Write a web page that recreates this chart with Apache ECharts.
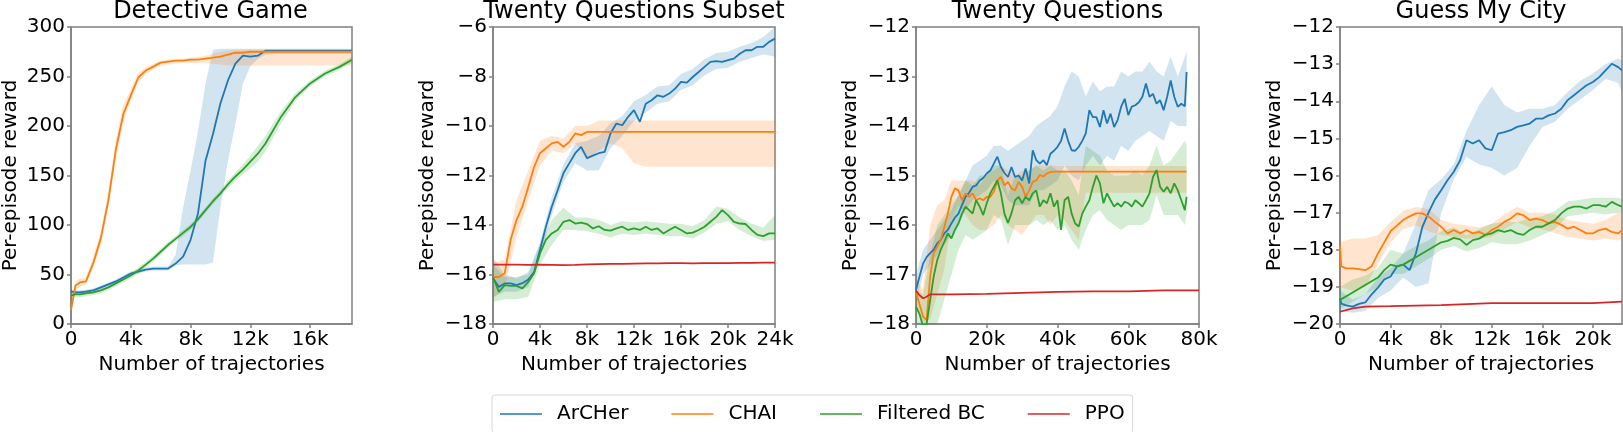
<!DOCTYPE html>
<html>
<head>
<meta charset="utf-8">
<script src="https://cdn.jsdelivr.net/npm/echarts@6/dist/echarts.min.js"></script>
<style>
  html, body { margin: 0; padding: 0; background: #fff; }
  #chart { width: 1623px; height: 432px; }
</style>
</head>
<body>
<div id="chart"></div>
<script>
// x values are in thousands of trajectories
// ---- Detective Game ----
const dgX = [0,0.3,0.6,1,1.5,2,2.5,3,3.5,4,4.5,5,5.5,6,6.5,7,7.5,8,8.5,9,9.5,10,10.5,11,11.5,12,12.5,13,14,15,16,17,18,18.8]
const dgArCHer = [33,32,32,32.6,34,37,40,43,47,51,53,55,56,56,56,61,68,85,112,165,192,223,246,263,271,270,271,276,276,276,276,276,276,276]
const dgArCHerLo = [30,30,30,30.5,32,35,38,41,45,49,51,53,54,54,54,59,60,60,60,60,62,118,165,202,243,260,268,272,273,273,273,273,273,273]
const dgArCHerHi = [35,34,34,34.6,36,39,42,45,49,53,55,57,58,58,58,70,118,155,195,243,277,278,278,278,278,278,278,278,278,278,278,278,278,278]
const dgCHAI = [14,39,42,43,62,87,125,176,212,231,249,256,260,264,265,266,266,267,267,268,269,270,272,274,274,275,275,275,275,275,275,275,275,275]
const dgCHAILo = [10,34,38,40,57,80,118,166,204,226,244,252,257,261,262,263,264,264,264,264,263,262,261,261,261,261,261,261,261,261,261,261,261,261]
const dgCHAIHi = [20,43,46,47,68,94,133,186,221,237,254,259,263,266,267,268,268,269,270,271,273,275,276,277,277,277,277,277,277,277,277,277,277,277]
const dgBC = [29,30,30,31,32,34,37,41,45,49,54,60,66,73,80,86,92,98,106,115,124,132,141,149,156,164,172,182,208,229,243,253,260,267]
const dgBCLo = [26,27,27,28,29,31,34,38,42,46,51,57,63,70,77,83,89,95,103,112,121,129,137,145,151,157,164,174,201,225,240,250,257,264]
const dgBCHi = [32,33,33,34,35,37,40,44,48,52,57,63,69,76,83,89,95,101,109,118,127,135,145,153,161,170,180,190,214,233,246,256,263,270]

// ---- Twenty Questions Subset ----
const tqsX = [0,0.5,1,1.5,2,2.5,3,3.5,4,4.5,5,5.5,6,6.5,7,7.5,8,8.5,9,9.5,10,10.5,11,11.5,12,12.5,13,13.5,14,14.5,15,15.5,16,16.5,17,17.5,18,18.5,19,19.5,20,20.5,21,21.5,22,22.5,23,23.5,24]
const tqsBX = [0,1,2,3,4,5,6,7,8,9,10,11,12,13,14,15,16,17,18,19,20,21,22,23,24]
const tqsArCHer = [-16.16,-16.5,-16.36,-16.36,-16.43,-16.35,-16.2,-15.9,-15.0,-14.07,-13.26,-12.6,-11.9,-11.5,-11.1,-10.84,-11.3,-11.2,-11.1,-11.05,-10.3,-9.9,-9.97,-9.63,-9.36,-9.83,-9.1,-8.96,-8.76,-8.82,-8.69,-8.49,-8.22,-8.25,-8.02,-7.82,-7.61,-7.41,-7.38,-7.41,-7.34,-7.28,-7.08,-6.94,-6.94,-6.8,-6.8,-6.6,-6.47]
const tqsArCHerLo = [-16.9,-16.7,-16.7,-16.5,-15.3,-13.6,-12.25,-11.5,-11.8,-11.8,-10.9,-10.4,-9.8,-9.45,-9.1,-9.0,-8.55,-8.35,-7.95,-7.7,-7.65,-7.4,-7.25,-7.1,-7.2]
const tqsArCHerHi = [-15.3,-16.0,-16.15,-15.9,-14.7,-12.9,-11.55,-10.7,-10.6,-10.4,-9.9,-9.6,-9.0,-8.75,-8.4,-8.35,-7.9,-7.7,-7.3,-7.05,-7.0,-6.8,-6.65,-6.4,-6.0]
const tqsCHAI = [-16.1,-16.1,-15.95,-14.6,-13.8,-13.26,-12.46,-11.65,-11.1,-10.9,-10.7,-10.64,-10.84,-10.64,-10.3,-10.37,-10.24,-10.24,-10.24,-10.24,-10.24,-10.24,-10.24,-10.24,-10.24,-10.24,-10.24,-10.24,-10.24,-10.24,-10.24,-10.24,-10.24,-10.24,-10.24,-10.24,-10.24,-10.24,-10.24,-10.24,-10.24,-10.24,-10.24,-10.24,-10.24,-10.24,-10.24,-10.24,-10.24]
const tqsCHAILo = [-17.0,-16.5,-14.5,-13.0,-11.6,-11.0,-11.1,-10.7,-11.38,-11.0,-10.7,-10.9,-11.5,-11.65,-11.65,-11.65,-11.65,-11.65,-11.65,-11.65,-11.65,-11.65,-11.65,-11.65,-11.65]
const tqsCHAIHi = [-15.5,-15.4,-13.0,-11.8,-10.6,-10.4,-10.5,-10.0,-10.0,-9.78,-9.78,-9.78,-9.78,-9.78,-9.78,-9.78,-9.78,-9.78,-9.78,-9.78,-9.78,-9.78,-9.78,-9.78,-9.78]
const tqsBC = [-16.1,-16.7,-16.43,-16.46,-16.46,-16.56,-16.3,-15.95,-15.15,-14.6,-14.34,-14.2,-13.87,-13.8,-13.94,-13.9,-13.96,-14.14,-14.05,-14.2,-14.23,-14.14,-14.07,-14.2,-14.14,-14.2,-14.07,-14.2,-14.14,-14.34,-14.2,-14.07,-14.2,-14.34,-14.31,-14.2,-14.07,-13.87,-13.67,-13.4,-13.6,-13.87,-13.94,-13.96,-14.2,-14.4,-14.45,-14.34,-14.34]
const tqsBCLo = [-17.1,-17.0,-17.0,-16.9,-15.6,-14.8,-14.2,-14.2,-14.25,-14.35,-14.5,-14.35,-14.4,-14.35,-14.4,-14.45,-14.45,-14.55,-14.3,-13.95,-13.85,-14.2,-14.45,-14.65,-14.6]
const tqsBCHi = [-15.6,-16.1,-16.1,-16.0,-14.8,-13.8,-13.3,-13.7,-13.7,-13.8,-14.0,-13.85,-13.9,-13.85,-13.9,-13.95,-13.95,-14.05,-13.8,-13.25,-13.35,-13.7,-13.95,-14.1,-13.6]
const tqsPPO = [-15.6,-15.6,-15.6,-15.61,-15.6,-15.61,-15.62,-15.61,-15.59,-15.58,-15.57,-15.57,-15.56,-15.55,-15.55,-15.54,-15.54,-15.55,-15.54,-15.54,-15.54,-15.53,-15.53,-15.52,-15.52]

// ---- Twenty Questions ----
const tqX = [0,1,2,3,4,5,6,7,8,9,10,11,12,13,14,15,16,17,18,19,20,21,22,23,24,25,26,27,28,29,30,31,32,33,34,35,36,37,38,39,40,41,42,43,44,45,46,47,48,49,50,51,52,53,54,55,56,57,58,59,60,61,62,63,64,65,66,67,68,69,70,71,72,73,74,75,76,76.5]
const tqBX = [0,2,4,6,8,10,12,14,16,18,20,22,24,26,28,30,32,34,36,38,40,42,44,46,48,50,52,54,56,58,60,62,64,66,68,70,72,74,76,76.5]
const tqArCHer = [-17.31,-17.04,-16.78,-16.65,-16.57,-16.5,-16.37,-16.3,-16.17,-16.1,-15.97,-15.85,-15.77,-15.6,-15.43,-15.35,-15.23,-15.2,-15.1,-15.05,-14.96,-14.9,-14.76,-14.62,-14.83,-14.95,-15.03,-14.83,-15.03,-15.0,-15.1,-14.86,-15.16,-14.49,-14.69,-14.76,-14.69,-14.79,-14.56,-14.5,-14.42,-14.3,-14.05,-14.3,-14.49,-14.5,-14.42,-14.3,-14.15,-13.68,-13.82,-13.82,-14.02,-13.68,-13.95,-13.75,-14.02,-13.88,-13.61,-13.45,-13.78,-13.61,-13.58,-13.52,-13.41,-13.14,-13.41,-13.35,-13.55,-13.48,-13.68,-13.41,-13.08,-13.41,-13.61,-13.55,-13.6,-12.91]
const tqArCHerLo = [-17.6,-17.0,-16.8,-16.6,-16.4,-16.2,-16.0,-15.7,-15.5,-15.4,-15.3,-15.1,-15.2,-15.5,-15.6,-15.6,-15.6,-15.3,-15.3,-15.2,-15.1,-14.8,-15.0,-15.1,-14.8,-14.6,-14.8,-14.6,-14.7,-14.4,-14.5,-14.3,-14.2,-14.1,-14.2,-14.3,-13.9,-14.0,-14.0,-14.0]
const tqArCHerHi = [-17.0,-16.5,-16.3,-16.1,-15.9,-15.7,-15.4,-15.1,-14.8,-14.7,-14.6,-14.4,-14.4,-14.5,-14.4,-14.3,-14.2,-14.0,-13.9,-13.8,-13.6,-13.2,-12.9,-13.0,-13.4,-13.1,-13.3,-13.2,-13.2,-12.9,-13.0,-12.9,-12.9,-12.7,-12.9,-13.0,-12.6,-13.0,-12.6,-12.5]
const tqCHAI = [-17.35,-17.6,-17.85,-17.92,-17.04,-16.57,-16.44,-16.3,-16.04,-15.77,-15.43,-15.26,-15.3,-15.5,-15.36,-15.43,-15.36,-15.5,-15.46,-15.5,-15.43,-15.43,-15.33,-15.1,-15.03,-15.2,-15.13,-15.26,-15.3,-15.13,-15.23,-15.43,-15.3,-15.13,-15.1,-14.99,-15.02,-14.96,-14.93,-14.92,-14.92,-14.92,-14.92,-14.92,-14.92,-14.92,-14.92,-14.92,-14.92,-14.92,-14.92,-14.92,-14.92,-14.92,-14.92,-14.92,-14.92,-14.92,-14.92,-14.92,-14.92,-14.92,-14.92,-14.92,-14.92,-14.92,-14.92,-14.92,-14.92,-14.92,-14.92,-14.92,-14.92,-14.92,-14.92,-14.92,-14.92,-14.92]
const tqCHAILo = [-17.6,-18.0,-17.9,-17.4,-16.9,-15.9,-15.6,-15.8,-16.0,-16.1,-16.1,-16.0,-15.8,-16.0,-16.1,-16.2,-16.0,-15.8,-15.8,-16.0,-15.8,-15.9,-16.1,-16.3,-15.35,-15.35,-15.35,-15.35,-15.35,-15.35,-15.35,-15.35,-15.35,-15.35,-15.35,-15.35,-15.35,-15.35,-15.35,-15.35]
const tqCHAIHi = [-17.1,-17.3,-16.0,-15.6,-15.5,-15.1,-15.1,-15.1,-15.1,-15.2,-15.0,-14.9,-14.8,-14.9,-15.0,-14.9,-14.9,-14.8,-14.8,-14.8,-14.81,-14.81,-14.81,-14.81,-14.81,-14.81,-14.81,-14.81,-14.81,-14.81,-14.81,-14.81,-14.81,-14.81,-14.81,-14.81,-14.81,-14.81,-14.81,-14.81]
const tqBC = [-17.65,-17.8,-18.05,-18.0,-17.52,-17.04,-16.71,-16.5,-16.34,-16.17,-16.27,-16.1,-15.97,-15.77,-15.63,-15.7,-15.77,-15.5,-15.63,-15.8,-15.56,-15.36,-15.23,-15.1,-15.36,-15.77,-15.96,-15.76,-15.5,-15.43,-15.56,-15.43,-15.5,-15.36,-15.3,-15.63,-15.5,-15.56,-15.36,-15.63,-15.5,-16.1,-15.5,-15.43,-15.77,-15.97,-16.03,-15.77,-15.63,-15.5,-15.23,-15.0,-15.16,-15.56,-15.36,-15.5,-15.63,-15.56,-15.63,-15.53,-15.56,-15.63,-15.5,-15.56,-15.63,-15.5,-15.36,-15.03,-14.89,-15.23,-15.33,-15.23,-15.36,-15.16,-15.3,-15.5,-15.7,-15.43]
const tqBCLo = [-18.0,-18.3,-18.2,-18.0,-17.5,-17.0,-16.5,-16.2,-16.3,-16.2,-16.1,-15.8,-15.9,-16.4,-16.0,-16.0,-16.0,-15.9,-16.0,-15.9,-16.1,-16.0,-16.3,-16.5,-16.1,-15.8,-15.7,-15.9,-16.0,-16.1,-16.0,-16.0,-16.0,-15.9,-15.4,-15.8,-15.8,-15.8,-16.0,-15.8]
const tqBCHi = [-17.3,-17.4,-16.6,-16.0,-15.8,-15.6,-15.4,-15.1,-15.2,-15.0,-15.0,-14.8,-14.8,-15.4,-15.0,-15.0,-14.9,-14.8,-14.9,-14.8,-14.9,-14.9,-15.1,-15.4,-14.4,-14.5,-14.6,-14.9,-15.0,-15.0,-15.0,-14.9,-15.0,-14.8,-14.4,-14.8,-14.7,-14.5,-14.3,-14.4]
const tqPPOX = [0,1,2,3,4,6,10,20,30,40,50,60,70,80]
const tqPPO = [-17.33,-17.42,-17.48,-17.45,-17.4,-17.4,-17.4,-17.39,-17.37,-17.35,-17.34,-17.34,-17.32,-17.32]

// ---- Guess My City ----
const gmX = [0,0.1,0.5,1,1.5,2,2.5,3,3.5,4,4.5,5,5.5,6,6.5,7,7.5,8,8.5,9,9.5,10,10.5,11,11.5,12,12.5,13,13.5,14,14.5,15,15.5,16,16.5,17,17.5,18,18.5,19,19.5,20,20.5,21,21.5,22,22.3]
const gmBX = [0,1,2,3,4,5,6,7,8,9,10,11,12,13,14,15,16,17,18,19,20,21,22,22.3]
const gmArCHer = [-19.31,-19.45,-19.5,-19.53,-19.46,-19.42,-19.2,-19.02,-18.8,-18.72,-18.45,-18.4,-18.55,-18.1,-17.4,-17.0,-16.65,-16.4,-16.13,-15.9,-15.59,-15.05,-15.14,-15.05,-15.27,-15.32,-14.87,-14.83,-14.78,-14.69,-14.65,-14.6,-14.47,-14.47,-14.38,-14.33,-14.2,-13.97,-13.84,-13.7,-13.57,-13.48,-13.35,-13.17,-12.99,-13.08,-13.17]
const gmArCHerLo = [-19.65,-19.7,-19.65,-19.3,-19.1,-18.75,-19.0,-18.9,-17.0,-16.1,-15.5,-15.7,-15.8,-16.0,-15.8,-15.2,-14.7,-14.55,-14.2,-13.95,-13.7,-13.4,-13.5,-13.75]
const gmArCHerHi = [-19.1,-19.35,-19.2,-18.75,-18.5,-18.1,-17.3,-16.4,-16.1,-15.7,-14.8,-14.1,-13.6,-14.1,-14.3,-14.2,-14.2,-14.1,-13.75,-13.45,-13.25,-13.0,-12.85,-12.9]
const gmCHAI = [-17.9,-18.45,-18.5,-18.5,-18.52,-18.55,-18.45,-18.1,-17.8,-17.5,-17.35,-17.2,-17.1,-17.02,-17.02,-17.1,-17.25,-17.38,-17.56,-17.47,-17.56,-17.47,-17.56,-17.52,-17.6,-17.47,-17.38,-17.25,-17.16,-17.02,-17.07,-17.2,-17.16,-17.2,-17.29,-17.25,-17.33,-17.43,-17.38,-17.47,-17.56,-17.56,-17.47,-17.43,-17.52,-17.56,-17.47]
const gmCHAILo = [-19.0,-19.1,-19.0,-18.4,-17.8,-17.45,-17.35,-17.5,-17.6,-17.65,-17.7,-17.7,-17.65,-17.45,-17.25,-17.4,-17.45,-17.55,-17.65,-17.7,-17.75,-17.7,-17.75,-17.7]
const gmCHAIHi = [-17.8,-17.7,-17.7,-17.6,-17.25,-16.95,-16.85,-16.9,-17.2,-17.3,-17.35,-17.4,-17.3,-17.05,-16.85,-17.0,-17.0,-17.05,-17.2,-17.25,-17.3,-17.2,-17.0,-17.0]
const gmBC = [-19.35,-19.3,-19.25,-19.15,-19.05,-18.95,-18.85,-18.75,-18.55,-18.4,-18.45,-18.4,-18.3,-18.2,-18.1,-18.0,-17.9,-17.8,-17.76,-17.68,-17.72,-17.87,-17.74,-17.7,-17.6,-17.56,-17.47,-17.52,-17.47,-17.56,-17.6,-17.47,-17.38,-17.38,-17.29,-17.2,-17.02,-16.89,-16.84,-16.84,-16.89,-16.8,-16.8,-16.84,-16.71,-16.8,-16.84]
const gmBCLo = [-19.6,-19.4,-19.2,-19.0,-18.65,-18.65,-18.45,-18.25,-18.0,-17.9,-18.05,-17.95,-17.8,-17.85,-17.85,-17.75,-17.6,-17.45,-17.1,-17.05,-17.0,-17.05,-17.0,-17.0]
const gmBCHi = [-19.0,-18.8,-18.7,-18.5,-18.0,-18.1,-17.9,-17.75,-17.5,-17.4,-17.6,-17.45,-17.3,-17.25,-17.25,-17.15,-17.1,-16.95,-16.7,-16.65,-16.6,-16.6,-16.6,-16.65]
const gmPPOX = [0,0.1,1,2,4,8,12,16,20,22.3]
const gmPPO = [-19.67,-19.66,-19.58,-19.53,-19.52,-19.49,-19.44,-19.44,-19.44,-19.4]

const titles = ['Detective Game', 'Twenty Questions Subset', 'Twenty Questions', 'Guess My City']
const methods = ['ArCHer', 'CHAI', 'Filtered BC', 'PPO']
const colors = ['#1f77b4', '#ff7f0e', '#2ca02c', '#d62728']
const fills = ['rgba(31,119,180,0.2)', 'rgba(255,127,14,0.2)', 'rgba(44,160,44,0.2)', 'rgba(214,39,40,0.2)']

const FONT = 'DejaVu Sans'
const AXIS_GRAY = '#808080'

// plot boxes in px: left, width
const boxes = [[69, 283], [493, 282], [916, 283], [1340, 282]]
const TOP = 27, BOTTOM = 108

const panels = [
  { xMax: 18.8, xTicks: [0, 4, 8, 12, 16], yMin: 0, yMax: 300, yStep: 50, nameGap: 50,
    runs: [
      { k: 0, x: dgX, y: dgArCHer, bx: dgX, lo: dgArCHerLo, hi: dgArCHerHi },
      { k: 1, x: dgX, y: dgCHAI, bx: dgX, lo: dgCHAILo, hi: dgCHAIHi },
      { k: 2, x: dgX, y: dgBC, bx: dgX, lo: dgBCLo, hi: dgBCHi }
    ] },
  { xMax: 24, xTicks: [0, 4, 8, 12, 16, 20, 24], yMin: -18, yMax: -6, yStep: 2, nameGap: 55,
    runs: [
      { k: 0, x: tqsX, y: tqsArCHer, bx: tqsBX, lo: tqsArCHerLo, hi: tqsArCHerHi },
      { k: 1, x: tqsX, y: tqsCHAI, bx: tqsBX, lo: tqsCHAILo, hi: tqsCHAIHi },
      { k: 2, x: tqsX, y: tqsBC, bx: tqsBX, lo: tqsBCLo, hi: tqsBCHi },
      { k: 3, x: tqsBX, y: tqsPPO }
    ] },
  { xMax: 80, xTicks: [0, 20, 40, 60, 80], yMin: -18, yMax: -12, yStep: 1, nameGap: 55,
    runs: [
      { k: 0, x: tqX, y: tqArCHer, bx: tqBX, lo: tqArCHerLo, hi: tqArCHerHi },
      { k: 1, x: tqX, y: tqCHAI, bx: tqBX, lo: tqCHAILo, hi: tqCHAIHi },
      { k: 2, x: tqX, y: tqBC, bx: tqBX, lo: tqBCLo, hi: tqBCHi },
      { k: 3, x: tqPPOX, y: tqPPO }
    ] },
  { xMax: 22.3, xTicks: [0, 4, 8, 12, 16, 20], yMin: -20, yMax: -12, yStep: 1, nameGap: 55,
    runs: [
      { k: 0, x: gmX, y: gmArCHer, bx: gmBX, lo: gmArCHerLo, hi: gmArCHerHi },
      { k: 1, x: gmX, y: gmCHAI, bx: gmBX, lo: gmCHAILo, hi: gmCHAIHi },
      { k: 2, x: gmX, y: gmBC, bx: gmBX, lo: gmBCLo, hi: gmBCHi },
      { k: 3, x: gmPPOX, y: gmPPO }
    ] }
]

// shaded band drawn as one polygon through the axes' coord mapping
function bandSeries(i, k, xs, lo, hi) {
  const pts = xs.map((x, j) => [x, lo[j], hi[j]])
  return {
    type: 'custom',
    name: methods[k] + ' band',
    xAxisIndex: i,
    yAxisIndex: i,
    silent: true,
    clip: true,
    data: pts,
    encode: { x: 0, y: [1, 2] },
    renderItem: function (params, api) {
      if (params.dataIndex !== 0) return null
      const up = pts.map(p => api.coord([p[0], p[2]]))
      const dn = pts.map(p => api.coord([p[0], p[1]])).reverse()
      return {
        type: 'polygon',
        shape: { points: up.concat(dn) },
        style: { fill: fills[k], stroke: null }
      }
    }
  }
}

const series = []
panels.forEach((p, i) => {
  p.runs.forEach(r => {
    if (r.lo) series.push(bandSeries(i, r.k, r.bx, r.lo, r.hi))
    series.push({
      type: 'line',
      name: methods[r.k],
      xAxisIndex: i,
      yAxisIndex: i,
      data: r.x.map((v, j) => [v, r.y[j]]),
      showSymbol: false,
      symbol: 'none',
      clip: true,
      lineStyle: { width: 1.8, color: colors[r.k] },
      itemStyle: { color: colors[r.k] }
    })
  })
})

const fmtY = v => (v < 0 ? '\u2212' + (-v) : String(v))

const option = {
  animation: false,
  backgroundColor: '#fff',
  textStyle: { fontFamily: FONT },
  title: titles.map((t, i) => ({
    text: t,
    left: boxes[i][0] + boxes[i][1] / 2,
    top: 0,
    padding: 0,
    textAlign: 'center',
    textStyle: { fontSize: 24, fontWeight: 'normal', color: '#000', fontFamily: FONT }
  })),
  grid: boxes.map(b => ({
    left: b[0], width: b[1], top: TOP, bottom: BOTTOM,
    show: true, borderColor: AXIS_GRAY, borderWidth: 1.5, containLabel: false
  })),
  xAxis: panels.map((p, i) => ({
    gridIndex: i,
    type: 'value',
    min: 0,
    max: p.xMax,
    interval: p.xTicks[1],
    name: 'Number of trajectories',
    nameLocation: 'middle',
    nameGap: 27,
    nameTextStyle: { fontSize: 20, color: '#000', fontFamily: FONT },
    axisLine: { show: true, onZero: false, lineStyle: { color: AXIS_GRAY, width: 1.5 } },
    axisTick: { show: true, length: 4, customValues: p.xTicks, lineStyle: { color: AXIS_GRAY, width: 1.5 } },
    axisLabel: {
      fontSize: 20, color: '#000', margin: 6, fontFamily: FONT,
      customValues: p.xTicks,
      showMinLabel: true, showMaxLabel: true,
      formatter: v => (p.xTicks.indexOf(v) < 0 ? '' : (v === 0 ? '0' : v + 'k'))
    },
    splitLine: { show: false }
  })),
  yAxis: panels.map((p, i) => ({
    gridIndex: i,
    type: 'value',
    min: p.yMin,
    max: p.yMax,
    interval: p.yStep,
    name: 'Per-episode reward',
    nameLocation: 'middle',
    nameGap: p.nameGap,
    nameTextStyle: { fontSize: 20, color: '#000', fontFamily: FONT },
    axisLine: { show: true, onZero: false, lineStyle: { color: AXIS_GRAY, width: 1.5 } },
    axisTick: { show: true, length: 4, lineStyle: { color: AXIS_GRAY, width: 1.5 } },
    axisLabel: { fontSize: 20, color: '#000', margin: 6, fontFamily: FONT, formatter: fmtY },
    splitLine: { show: false }
  })),
  legend: {
    data: methods,
    left: 492,
    top: 395,
    orient: 'horizontal',
    icon: 'rect',
    itemWidth: 42,
    itemHeight: 2,
    itemGap: 43,
    padding: [9, 8, 9, 8],
    borderColor: '#d6d6d6',
    borderWidth: 1,
    borderRadius: 3,
    itemStyle: { opacity: 0.75 },
    textStyle: { fontSize: 20, color: '#000', fontFamily: FONT, padding: [0, 0, 0, 10] }
  },
  series: series
}

const chart = echarts.init(document.getElementById('chart'), null, { renderer: 'canvas' })
chart.setOption(option)
</script>
</body>
</html>
